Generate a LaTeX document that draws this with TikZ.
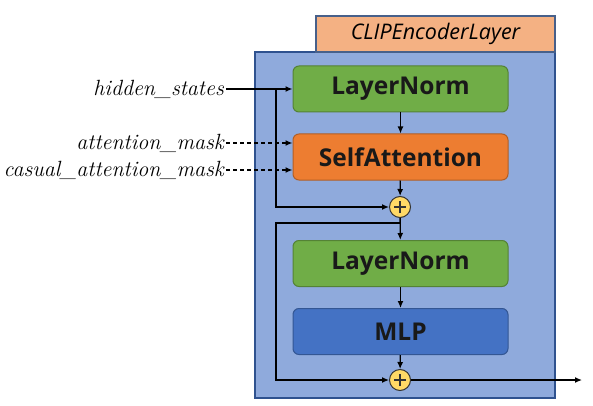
\documentclass[tikz,border=0pt]{standalone}
\usepackage{fontspec}
\setsansfont{Open Sans}
\usetikzlibrary{arrows.meta}
\definecolor{layerblue}{HTML}{8FAADC}
\definecolor{edgeblue}{HTML}{2F528F}
\definecolor{titlesalmon}{HTML}{F4B183}
\definecolor{normgreen}{HTML}{70AD47}
\definecolor{attnorange}{HTML}{ED7D31}
\definecolor{mlpblue}{HTML}{4472C4}
\definecolor{addyellow}{HTML}{FFD966}
\tikzset{
block/.style={
  rectangle,
  rounded corners=6pt,
  draw=#1!75!black,
  fill=#1,
  line width=1pt,
  minimum width=215pt,
  minimum height=46pt,
  text=black!90,
  font=\sffamily\bfseries\fontsize{24.5}{24.5}\selectfont
},
addnode/.style={
  circle,
  draw=black!80,
  fill=addyellow,
  line width=1pt,
  minimum size=21pt,
  inner sep=0pt,
  path picture={
    \draw[line width=1.8pt]
      ([xshift=-6pt]path picture bounding box.center) --
      ([xshift=6pt]path picture bounding box.center)
      ([yshift=-6pt]path picture bounding box.center) --
      ([yshift=6pt]path picture bounding box.center);
  }
},
flow/.style={-{Latex[length=7pt,width=6pt]}, line width=1.3pt},
mask/.style={dash pattern=on 4pt off 3pt},
input/.style={anchor=east, inner sep=2pt, font=\itshape\fontsize{22}{22}\selectfont}
}
\begin{document}
\begin{tikzpicture}[x=1pt,y=-1pt]
\useasboundingbox (0,0) rectangle (593,406);
% the layer frame
\node[rectangle, draw=edgeblue, fill=layerblue, line width=1.6pt,
  minimum width=300pt, minimum height=346pt] (layer) at (405,225) {};
\node[rectangle, draw=edgeblue!70!gray, fill=titlesalmon, line width=1.6pt,
  minimum width=239pt, minimum height=36pt,
  font=\sffamily\itshape\fontsize{21.5}{21.5}\selectfont] (title) at (435.5,34) {CLIPEncoderLayer};
% the blocks
\node[block=normgreen] (ln1) at (400.5,89) {LayerNorm};
\node[block=attnorange] (attn) at (400.5,157) {SelfAttention};
\node[addnode] (add1) at (400,207) {};
\node[block=normgreen] (ln2) at (400.5,263.5) {LayerNorm};
\node[block=mlpblue] (mlp) at (400.5,331.5) {MLP};
\node[addnode] (add2) at (400,380) {};
% the inputs
\node[input] (hs) at (226,89) {hidden\_states};
\node[input] (am) at (226,143) {attention\_mask};
\node[input] (cam) at (226,170) {casual\_attention\_mask};
\draw[flow] (hs.east) -- (hs.east -| ln1.west);
\foreach \x in {am,cam}
{
  \draw[flow, mask] (\x.east) -- (\x.east -| attn.west);
}
% the arrows
\draw[flow] (ln1) -- (attn);
\draw[flow] (attn) -- (add1);
\draw[flow] (add1) -- (ln2);
\draw[flow] (ln2) -- (mlp);
\draw[flow] (mlp) -- (add2);
% the residuals
\coordinate (res1) at (276,89);
\draw[flow] (res1) |- (add1);
\coordinate (res2) at (400,223);
\coordinate (res2l) at (276,223);
\draw[flow] (res2) -- (res2l) |- (add2);
\coordinate (out) at (582,380);
\draw[flow] (add2) -- (out);
\end{tikzpicture}
\end{document}
